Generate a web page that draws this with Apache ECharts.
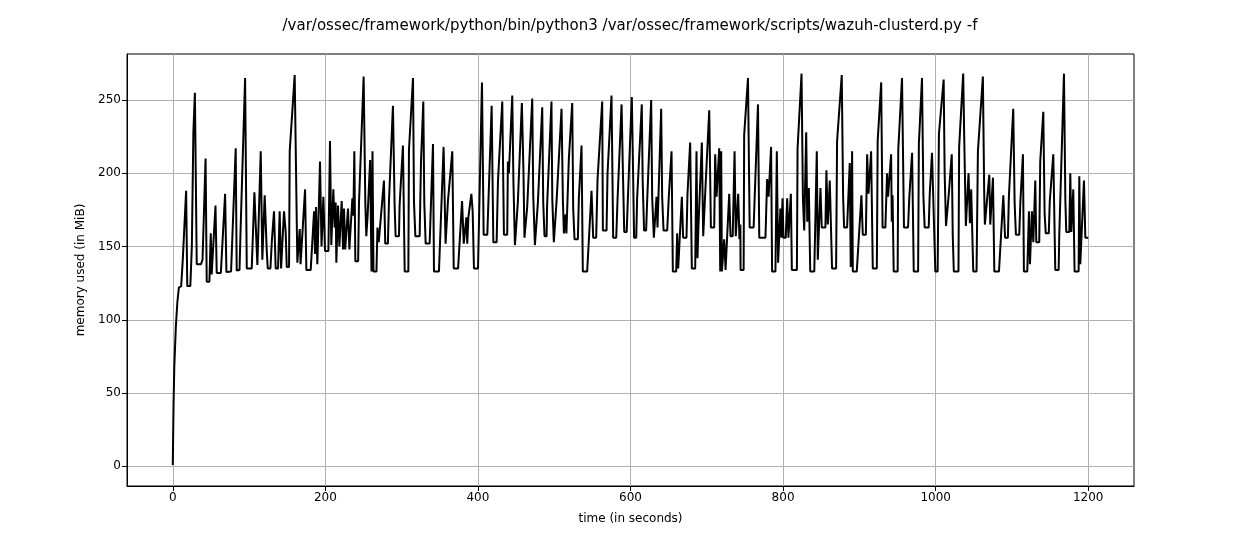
<!DOCTYPE html>
<html lang="en">
  <head>
    <meta charset="UTF-8" />
    <title>wazuh-clusterd memory</title>
    <script src="https://cdn.jsdelivr.net/npm/echarts@6.0.0/dist/echarts.min.js"></script>
  </head>
  <body style="margin: 0">
    <div id="main" style="width: 1260px; height: 540px"></div>
    <script type="text/javascript">
      // values (vertices of the trace)
      const times = [
        0, 1, 2, 4, 6, 8, 11, 13, 17.5, 19, 23, 25, 27, 29, 31.4, 37, 39, 43, 44.5, 48,
        49.8, 51, 56, 57.6, 63, 65, 68.6, 70.3, 76.4, 82.5, 83.8, 87.5, 88.7, 94.8, 97, 103.5, 107, 110.9, 115.3, 117.4,
        120.5, 123.2, 124.5, 128, 130, 132.7, 134.9, 138, 140.1, 142, 145.8, 148, 149.4, 152.4, 153.3, 159.8, 163.3, 165.5, 166.4, 167.5,
        173.4, 175.1, 180.8, 185.2, 186.5, 187.8, 189.5, 192, 193, 195, 197.4, 199.6, 204, 206.1, 207.8, 210.5, 212.2, 213.5, 214.4, 215.5,
        216.6, 218.4, 221.4, 223.2, 224.5, 226, 229.7, 231.5, 235.4, 236.7, 238, 239.3, 243, 244.1, 250.2, 252.4, 253.7, 255, 255.5, 258.7,
        260.5, 261.8, 263.1, 267, 268.3, 270, 276.8, 278.5, 282, 283.4, 288.6, 290.8, 292.1, 296.5, 297.3, 301.7, 304, 308.8, 309.6, 314.9,
        316.2, 318, 323.6, 325.4, 328.4, 329.7, 331.5, 336.7, 341.1, 342.4, 348.9, 355, 357.6, 360.7, 363, 366.4, 367.5, 368.3, 374, 379.2,
        381.4, 384.9, 386, 387.5, 391.4, 393.1, 394.8, 400.1, 405.3, 407.5, 412.3, 418, 420.2, 424.5, 426.3, 431.9, 434.1, 438.4, 439.3, 440.6,
        445, 446.5, 448.5, 451, 452.3, 457.6, 459.7, 461, 462.5, 464.6, 471.2, 472.5, 474.7, 477, 478.6, 484.3, 485.6, 487.3, 490, 490.7,
        496.4, 497.5, 499.5, 502, 503.1, 509.6, 511.4, 512.7, 514, 514.9, 516, 519.2, 523.6, 524.9, 526.6, 531, 532.3, 535.8, 537.5, 543.2,
        548.9, 551.1, 555, 556.8, 562.9, 563.8, 568.6, 569.9, 575.1, 577.3, 581.3, 583, 588.3, 590, 591.8, 595, 596.5, 601.7, 603, 604.7,
        607.5, 608.7, 614.8, 616, 617.8, 620.5, 621.9, 627.1, 628.4, 630.6, 632.8, 634.1, 635.4, 640.2, 641.5, 643.3, 648.1, 650.3, 653.8, 655.5,
        659.9, 661.2, 662.5, 667.3, 668.6, 669, 673.4, 674.7, 678.2, 680.4, 684.8, 686.5, 687.8, 689, 693.5, 695.3, 697.5, 697.9, 703.2, 705.4,
        709.7, 711, 712.8, 716.3, 717.6, 718.9, 719.8, 722.8, 724.6, 729.4, 731.1, 734, 736.4, 738, 741.2, 742.8, 744, 744.3, 748.3, 749,
        754, 756.2, 761.4, 767.1, 768.8, 776.9, 779.1, 781, 784.3, 785.6, 790, 791.8, 793.5, 796.5, 797.8, 799.3, 800.5, 803.5, 805.4, 807,
        810.2, 811.5, 818.1, 819, 824.2, 826, 827.7, 830, 830.3, 831.7, 833.8, 835.6, 840.9, 844.2, 845.5, 849, 850.7, 855.5, 856.8, 858.6,
        861.2, 864.2, 869.5, 870.8, 876.9, 878.7, 880, 883.9, 887.4, 888.7, 890.5, 891.4, 896.6, 902.7, 904.5, 908.5, 910.2, 912, 915.4, 917.6,
        922.9, 924, 928.6, 930.4, 934.1, 936.3, 937.6, 941.6, 942.5, 943.5, 945, 950.2, 951, 955.9, 958.5, 963.8, 965.5, 969.1, 971.3, 977,
        978, 982.1, 983.9, 985.6, 990.9, 992.2, 995.2, 997.5, 999.6, 1002.6, 1004.3, 1010.5, 1011.8, 1013.6, 1015.8, 1017.1, 1021.1, 1022.4, 1023.8, 1029.9,
        1030.8, 1036.1, 1037.4, 1039.6, 1042.2, 1043.1, 1044.9, 1046.6, 1049.3, 1053.6, 1055.4, 1061.9, 1063.6, 1064.5, 1066.7, 1070.3, 1071.6, 1075.1, 1076.9, 1083,
        1088.7, 1091, 1094.7, 1096, 1101.7, 1103.5, 1105.2, 1109.6, 1111, 1114.4, 1115.7, 1120.1, 1122.3, 1123.6, 1126.2, 1128, 1130.6, 1131.9, 1135.8, 1137.1,
        1141.1, 1142.8, 1144.3, 1148.3, 1149.6, 1154.2, 1156.8, 1161.2, 1162, 1168.2, 1170, 1171.2, 1175.2, 1176.5, 1177.8, 1180.4, 1182.1, 1187.4, 1188.3, 1189.6,
        1194.4, 1196.2, 1200
      ];
      const memory = [
        1, 42, 68, 95, 112, 122, 123, 140, 188, 123, 123, 150, 228, 255, 138, 138, 141, 210, 126, 126,
        159, 131, 178, 132, 132, 133, 186, 132.6, 133, 217, 133.7, 134, 158, 265, 135, 135, 187, 137.5, 215, 141,
        185, 147, 135, 135, 155, 174, 135, 135, 174, 135, 174, 160, 136, 136, 215, 267, 139, 139, 162, 138,
        189, 134, 134, 174, 145, 177, 138, 138, 208, 150, 184, 147, 147, 222, 151, 189, 163, 180, 139, 139,
        178, 150, 181, 148, 176, 148, 176, 148, 183, 171, 215, 140, 140, 180, 266, 180, 157, 157, 172, 209,
        133, 215, 133, 133, 163, 153, 195, 152, 152, 181, 246, 178, 157, 157, 178, 219, 133, 133, 216, 265,
        180, 157, 157, 208, 249, 180, 152, 152, 220, 133, 133, 218, 152, 181, 182, 215, 215, 135, 135, 181,
        152, 170, 152, 170, 186, 174, 135, 135, 262, 158, 158, 246, 153, 153, 195, 249, 158, 158, 208, 200,
        253, 195, 151, 151, 180, 248, 201, 156, 156, 177, 251, 185, 151, 151, 180, 245, 180, 157, 157, 178,
        249, 182, 153, 153, 181, 244, 181, 159, 159, 172, 159, 210, 248, 176, 155, 155, 183, 219, 133, 133,
        188, 156, 156, 196, 249, 161, 161, 200, 253, 156, 156, 182, 247, 202, 160, 160, 182, 252, 213, 156,
        156, 183, 247, 194, 161, 161, 182, 250, 184, 156, 156, 184, 163, 244, 184, 161, 161, 185, 215, 133,
        133, 159, 135, 184, 184, 156, 156, 186, 221, 135, 135, 215, 142, 163, 221, 157, 157, 186, 243, 163,
        163, 213, 184, 217, 133, 215, 133, 155, 134, 186, 157, 157, 215, 157, 186, 155, 165, 134, 134, 226,
        265, 163, 163, 247, 156, 156, 196, 184, 218, 133, 133, 215, 139, 176, 156, 183, 156, 156, 183, 156,
        186, 134, 134, 217, 268, 183, 161, 161, 228, 167, 190, 133, 133, 215, 141, 190, 163, 163, 202, 165,
        195, 135, 135, 222, 267, 184, 163, 163, 207, 136, 215, 133, 133, 185, 158, 158, 213, 186, 215, 135,
        135, 222, 262, 163, 163, 200, 184, 213, 167, 185, 133, 133, 216, 265, 163, 163, 184, 214, 133, 133,
        220, 265, 185, 163, 163, 185, 214, 215, 133, 133, 227, 264, 200, 164, 164, 185, 213, 158, 133, 133,
        218, 268, 226, 164, 164, 200, 166, 189, 133, 133, 215, 266, 188, 165, 165, 199, 165, 197, 133, 133,
        185, 156, 156, 184, 244, 180, 158, 158, 180, 213, 133, 133, 174, 138, 174, 153, 195, 153, 153, 208,
        242, 173, 159, 159, 181, 213, 134, 134, 157, 268, 182, 160, 160, 200, 160, 189, 133, 133, 198, 138,
        195, 156, 156
      ];
      const xTicks = [0, 200, 400, 600, 800, 1000, 1200];
      const yTicks = [0, 50, 100, 150, 200, 250];

      const font = "DejaVu Sans";
      let options = {
        animation: false,
        textStyle: { fontFamily: font },
        title: {
          text: "/var/ossec/framework/python/bin/python3 /var/ossec/framework/scripts/wazuh-clusterd.py -f",
          left: "center",
          top: 14,
          textStyle: { fontFamily: font, fontSize: 15, fontWeight: "normal", color: "#000" },
        },
        grid: {
          left: 127,
          right: 126,
          top: 54,
          bottom: 54,
          show: true,
          borderColor: "#000",
          borderWidth: 1,
        },
        xAxis: {
          type: "value",
          min: -60,
          max: 1260,
          name: "time (in seconds)",
          nameLocation: "middle",
          nameGap: 27,
          nameTextStyle: { fontFamily: font, fontSize: 12, color: "#000" },
          axisLine: { show: true, onZero: false, lineStyle: { color: "#000" } },
          axisTick: { show: true, length: 5, lineStyle: { color: "#000" }, customValues: xTicks },
          axisLabel: {
            fontFamily: font,
            fontSize: 12,
            color: "#000",
            margin: 6,
            customValues: xTicks,
            formatter: (v) => String(v),
          },
          splitLine: { show: true, lineStyle: { color: "#b0b0b0", width: 1 } },
        },
        yAxis: {
          type: "value",
          min: -13.4,
          max: 281.4,
          name: "memory used (in MiB)",
          nameLocation: "middle",
          nameGap: 38,
          nameTextStyle: { fontFamily: font, fontSize: 12, color: "#000" },
          axisLine: { show: true, onZero: false, lineStyle: { color: "#000" } },
          axisTick: { show: true, length: 5, lineStyle: { color: "#000" }, customValues: yTicks },
          axisLabel: {
            fontFamily: font,
            fontSize: 12,
            color: "#000",
            margin: 6,
            customValues: yTicks,
            formatter: (v) => String(v),
          },
          splitLine: { show: true, lineStyle: { color: "#b0b0b0", width: 1 } },
        },
        series: [
          {
            type: "line",
            data: times.map((t, i) => [t, memory[i]]),
            showSymbol: false,
            lineStyle: { color: "#000", width: 2 },
          },
        ],
      };
      let myChart = echarts.init(document.getElementById("main"));
      myChart.setOption(options);
    </script>
  </body>
</html>
